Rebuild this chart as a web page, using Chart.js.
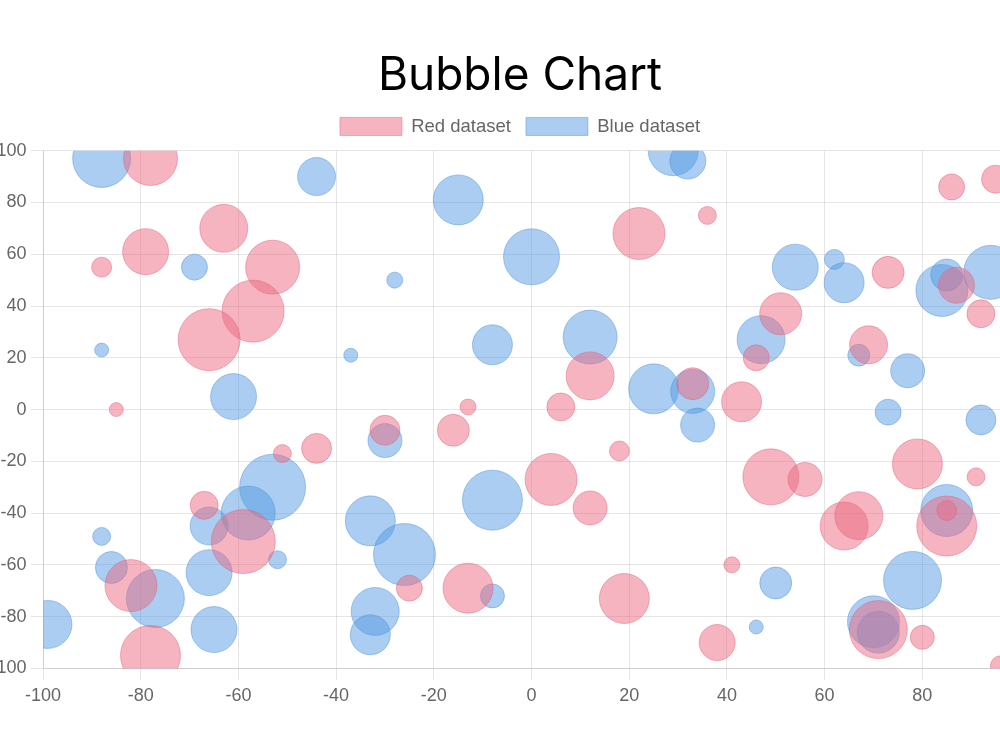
<!DOCTYPE html>
<html>
<head>
<meta charset="utf-8">
<title>Bubble Chart</title>
<script src="https://cdn.jsdelivr.net/npm/chart.js@4"></script>
<style>
    html, body { margin: 0; padding: 0; background: #fff; overflow: hidden; }
    #chart-wrap { position: absolute; left: -14px; top: 1px; width: 1068px; height: 710px; }
</style>
</head>
<body>
<div id="chart-wrap"><canvas id="bubble-chart"></canvas></div>
<script>
// [x, y, r] per bubble, r in screen pixels
const redX = [-78, -79, -88, -63, -53, -57, -66, -85, -67, -51, -44, -59, -82, -78, -30, -25, -13, -16, -13, 4, 6, 12, 12, 18, 22, 36, 19, 33, 43, 46, 51, 49, 56, 41, 38, 64, 67, 69, 73, 79, 85, 85, 71, 80, 96, 86, 95, 87, 92, 91];
const redY = [97, 61, 55, 70, 55, 38, 27, 0, -37, -17, -15, -51, -68, -95, -8, -69, 1, -8, -69, -27, 1, 13, -38, -16, 68, 75, -73, 10, 3, 20, 37, -26, -27, -60, -90, -45, -41, 25, 53, -21, -45, -39, -85, -88, -99, 86, 89, 48, 37, -26];
const redR = [27, 23, 10, 24, 27, 31, 31, 7, 14, 9, 15, 32, 26, 30, 15, 13, 8, 16, 25, 26, 14, 24, 17, 10, 26, 9, 25, 16, 20, 13, 21, 28, 17, 8, 18, 24, 24, 19, 16, 25, 30, 10, 29, 12, 10, 13, 14, 18, 14, 9];

const blueX = [-88, -44, -15, -69, -88, -28, -37, -61, -53, -58, -66, -88, -86, -77, -66, -65, -99, -52, -30, -33, -26, -32, -33, -8, -8, -8, 0, 12, 29, 32, 25, 33, 34, 47, 54, 62, 64, 67, 77, 73, 84, 85, 94, 92, 85, 78, 50, 46, 70, 71];
const blueY = [97, 90, 81, 55, 23, 50, 21, 5, -30, -40, -45, -49, -61, -73, -63, -85, -83, -58, -12, -43, -56, -78, -87, -35, 25, -72, 59, 28, 100, 96, 8, 7, -6, 27, 55, 58, 49, 21, 15, -1, 46, 52, 53, -4, -39, -66, -67, -84, -82, -86];
const blueR = [29, 19, 25, 13, 7, 8, 7, 23, 33, 27, 19, 9, 16, 29, 23, 23, 24, 9, 17, 25, 31, 24, 20, 30, 20, 12, 28, 27, 25, 18, 25, 22, 17, 24, 23, 10, 20, 11, 17, 13, 26, 16, 27, 15, 26, 29, 16, 7, 26, 21];

const axisTicks = [-100, -80, -60, -40, -20, 0, 20, 40, 60, 80, 100];

function toPoints(xs, ys, rs) {
    return xs.map((x, i) => ({ x: x, y: ys[i], r: rs[i] }));
}

const tickFont = { family: "'Liberation Sans', Arial, sans-serif", size: 18 };
const legendFont = { family: "'Liberation Sans', Arial, sans-serif", size: 18.5 };

// a bit more room between the legend and the plot
const legendGap = {
    id: 'legendGap',
    beforeInit(chart) {
        const fitLegend = chart.legend.fit;
        chart.legend.fit = function () {
            fitLegend.call(this);
            this.height += 5;
        };
    }
};

const ctx = document.getElementById('bubble-chart').getContext('2d');
new Chart(ctx, {
    type: 'bubble',
    data: {
        datasets: [{
            label: 'Red dataset',
            data: toPoints(redX, redY, redR),
            backgroundColor: 'rgba(235, 105, 130, 0.5)',
            borderColor: 'rgba(225, 95, 120, 0.45)',
            borderWidth: 1
        }, {
            label: 'Blue dataset',
            data: toPoints(blueX, blueY, blueR),
            backgroundColor: 'rgba(85, 155, 228, 0.5)',
            borderColor: 'rgba(75, 145, 220, 0.45)',
            borderWidth: 1
        }]
    },
    options: {
        responsive: true,
        maintainAspectRatio: false,
        animation: false,
        scales: {
            x: {
                min: -100,
                max: 100,
                afterBuildTicks: (axis) => { axis.ticks = axisTicks.map(v => ({ value: v })); },
                grid: { tickLength: 12 },
                ticks: { color: '#666', font: tickFont, padding: 4.5, maxRotation: 0 }
            },
            y: {
                min: -100,
                max: 100,
                afterBuildTicks: (axis) => { axis.ticks = axisTicks.map(v => ({ value: v })); },
                grid: { tickLength: 12 },
                ticks: { color: '#666', font: tickFont, padding: 4.5 }
            }
        },
        plugins: {
            title: {
                display: true,
                text: 'Bubble Chart',
                color: '#000',
                font: { family: 'Inter, sans-serif', size: 46, weight: 'normal' },
                padding: { top: 48, bottom: -2 }
            },
            legend: {
                labels: {
                    color: '#666',
                    font: legendFont,
                    boxWidth: 62,
                    boxHeight: 18,
                    padding: 15
                }
            },
            tooltip: { enabled: false }
        }
    },
    plugins: [legendGap]
});
</script>
</body>
</html>
